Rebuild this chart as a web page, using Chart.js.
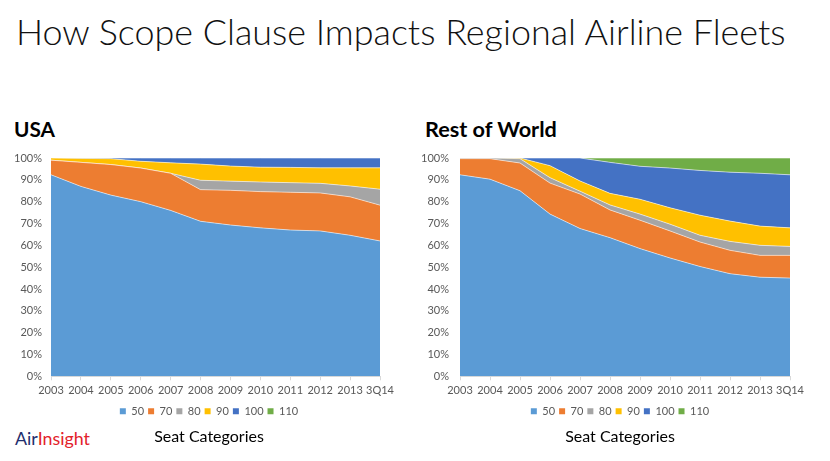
<!DOCTYPE html>
<html><head><meta charset="utf-8">
<script src="https://cdn.jsdelivr.net/npm/chart.js@4.4.1/dist/chart.umd.min.js"></script>
<style>
html,body{margin:0;padding:0;background:#fff;width:830px;height:461px;overflow:hidden;position:relative;}
.t{position:absolute;white-space:nowrap;line-height:1;font-family:Lato, sans-serif;left:0;top:0;}
canvas{position:absolute;}
</style></head><body>
<div id="title" class="t" style="font-weight:300;color:#111">How Scope Clause Impacts Regional Airline Fleets</div>
<div id="usa" class="t" style="font-weight:700;color:#000">USA</div>
<div id="row" class="t" style="font-weight:700;color:#000">Rest of World</div>
<div id="logo" class="t"><span style="color:#1F2F6E">Air</span><span style="color:#E3222B">Insight</span></div>
<canvas id="c1" width="418" height="311" style="left:0;top:150px"></canvas>
<canvas id="c2" width="420" height="311" style="left:410px;top:150px"></canvas>
<script>
// ---- data ----
const years = ['2003','2004','2005','2006','2007','2008','2009','2010','2011','2012','2013','3Q14'];
const seatCategories = ['50','70','80','90','100','110'];
const yTickValues = [0,10,20,30,40,50,60,70,80,90,100];

const usa50  = [92.3, 87, 83, 80, 76, 71, 69.3, 68, 67, 66.6, 64.6, 62];
const usa70  = [6.7, 11, 14, 15.4, 17, 14.5, 15.9, 16.6, 17.3, 17.4, 17.6, 16.4];
const usa80  = [0, 0, 0, 0, 0, 4.3, 4.2, 4.4, 4.4, 4.4, 5, 7.3];
const usa90  = [1, 1.8, 2.7, 3.1, 4.8, 7.4, 6.9, 6.8, 7, 7.1, 8.3, 9.8];
const usa100 = [0, 0.2, 0.3, 1.5, 2.2, 2.8, 3.7, 4.2, 4.3, 4.5, 4.5, 4.5];
const usa110 = [0, 0, 0, 0, 0, 0, 0, 0, 0, 0, 0, 0];

const row50  = [92.3, 90.3, 85, 74.3, 67.7, 63.5, 58.5, 54.2, 50.3, 47, 45.4, 45];
const row70  = [7.4, 9.4, 12.7, 14.2, 15.8, 12.7, 13, 12.4, 11.2, 10.7, 10, 10.4];
const row80  = [0.3, 0.3, 2, 2.5, 1.3, 2.3, 2.8, 3.1, 3.1, 4.1, 4.6, 4.1];
const row90  = [0, 0, 0.3, 5.5, 4.7, 5.3, 6.8, 7.5, 9.2, 9.3, 8.8, 8.5];
const row100 = [0, 0, 0, 3.5, 10.5, 14.2, 15.1, 18.2, 20.5, 22.4, 24.2, 24.3];
const row110 = [0, 0, 0, 0, 0, 2, 3.8, 4.6, 5.7, 6.5, 7, 7.7];

const seriesColors = ['#5B9BD5','#ED7D31','#A5A5A5','#FFC000','#4472C4','#70AD47'];

// ---- text placement ----
function placeText(id, x, baseline, width){
  const el = document.getElementById(id);
  const mark = document.createElement('span');
  mark.style.cssText = 'display:inline-block;width:0;height:0;vertical-align:baseline';
  el.appendChild(mark);
  el.style.fontSize = '100px';
  const w = el.getBoundingClientRect().width;
  const s = 100 * width / w;
  el.style.fontSize = s + 'px';
  const b = mark.offsetTop;
  el.style.left = x + 'px';
  el.style.top = (baseline - b) + 'px';
}
placeText('title', 16, 45, 770);
placeText('usa', 14, 137, 41);
placeText('row', 425, 137, 132);
placeText('logo', 15, 445, 75);

// ---- charts ----
Chart.defaults.font.family = 'Lato, sans-serif';
Chart.defaults.color = '#595959';

function makeChart(canvasId, series, leftW, rightW, tickGap){
  const datasets = series.map((vals, i) => ({
    label: seatCategories[i],
    data: vals,
    backgroundColor: seriesColors[i],
    borderColor: 'rgba(255,255,255,0.55)',
    borderWidth: 1,
    pointRadius: 0,
    pointHoverRadius: 0,
    tension: 0,
    fill: i === 0 ? 'origin' : '-1'
  }));
  return new Chart(document.getElementById(canvasId), {
    type: 'line',
    data: { labels: years, datasets },
    options: {
      responsive: false,
      animation: false,
      devicePixelRatio: 1,
      layout: { padding: { top: 8, bottom: 15, left: 0, right: 0 } },
      plugins: {
        tooltip: { enabled: false },
        legend: {
          position: 'bottom',
          labels: {
            boxWidth: 6, boxHeight: 6, padding: 4,
            color: '#595959',
            font: { size: 11 },
            generateLabels: (chart) => Chart.defaults.plugins.legend.labels.generateLabels(chart)
              .map(l => Object.assign(l, { strokeStyle: l.fillStyle, lineWidth: 0 }))
          }
        },
        title: {
          display: true,
          position: 'bottom',
          text: 'Seat Categories',
          color: '#000',
          font: { size: 16, weight: 'normal' },
          padding: { top: 0, bottom: 0 }
        }
      },
      scales: {
        x: {
          grid: { display: true, drawOnChartArea: false, drawTicks: true, tickLength: 4, color: '#D9D9D9' },
          border: { display: true, color: '#D9D9D9' },
          ticks: { autoSkip: false, maxRotation: 0, minRotation: 0, padding: 4, color: '#595959', font: { size: 11 } },
          afterFit: (s) => { s.height = 25.5; }
        },
        y: {
          stacked: true,
          min: 0, max: 100,
          afterBuildTicks: (s) => { s.ticks = yTickValues.map(v => ({ value: v })); },
          grid: { display: true, drawOnChartArea: false, drawTicks: true, tickLength: tickGap, color: 'rgba(0,0,0,0)' },
          border: { display: false },
          ticks: { padding: 0, color: '#595959', font: { size: 11 }, callback: (v) => v + '%' },
          afterFit: (s) => { s.width = leftW; }
        },
        pad: {
          type: 'linear', position: 'right', display: true,
          grid: { display: false }, border: { display: false },
          ticks: { display: false },
          afterFit: (s) => { s.width = rightW; }
        }
      }
    }
  });
}

makeChart('c1', [usa50, usa70, usa80, usa90, usa100, usa110], 51, 38, 9);
makeChart('c2', [row50, row70, row80, row90, row100, row110], 50, 40, 11);
</script>
</body></html>
